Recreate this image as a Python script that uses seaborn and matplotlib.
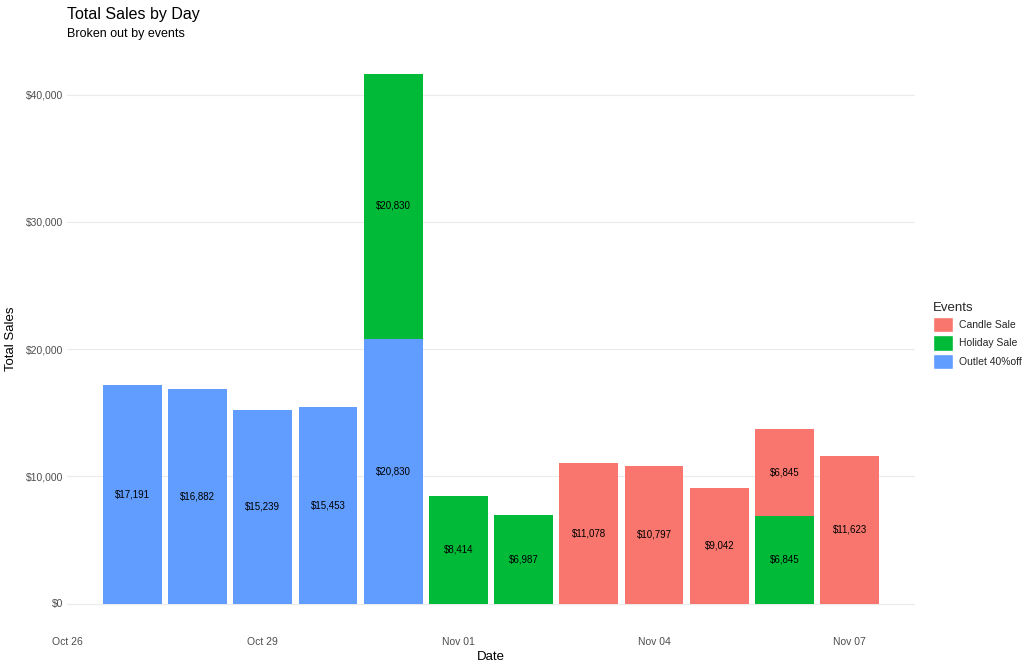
import matplotlib
matplotlib.use('Agg')
import matplotlib.pyplot as plt
import matplotlib.dates as mdates
import matplotlib.ticker as mticker
from matplotlib.patches import Patch
import seaborn as sns
import pandas as pd
import numpy as np

# data
dates = ['2023-10-27', '2023-10-28', '2023-10-29', '2023-10-30', '2023-10-31', '2023-10-31',
         '2023-11-01', '2023-11-02', '2023-11-03', '2023-11-04', '2023-11-05',
         '2023-11-06', '2023-11-06', '2023-11-07']
events = ['Outlet 40%off', 'Outlet 40%off', 'Outlet 40%off', 'Outlet 40%off', 'Outlet 40%off', 'Holiday Sale',
          'Holiday Sale', 'Holiday Sale', 'Candle Sale', 'Candle Sale', 'Candle Sale',
          'Holiday Sale', 'Candle Sale', 'Candle Sale']
sales = [17191, 16882, 15239, 15453, 20830, 20830,
         8414, 6987, 11078, 10797, 9042,
         6845, 6845, 11623]

event_order = ['Candle Sale', 'Holiday Sale', 'Outlet 40%off']
event_colors = ['#F8766D', '#00BA38', '#619CFF']
tick_dates = ['2023-10-26', '2023-10-29', '2023-11-01', '2023-11-04', '2023-11-07']

df = pd.DataFrame({'Date': pd.to_datetime(dates), 'Events': events, 'Sales': sales})
df['dnum'] = mdates.date2num(df['Date'])

sns.set_theme(style='white')
plt.rcParams['font.family'] = ['Liberation Sans', 'DejaVu Sans']

fig = plt.figure(figsize=(10.35, 6.66), dpi=100)
ax = fig.add_axes([67 / 1035, 36 / 666, 848 / 1035, 583 / 666])

# stacked bars; seaborn puts the first hue level on top, like ggplot
sns.histplot(data=df, x='dnum', weights='Sales', hue='Events',
             hue_order=event_order, palette=event_colors,
             discrete=True, shrink=0.9, multiple='stack', alpha=1,
             linewidth=0, legend=False, ax=ax)

# labels at segment centres (bottom-most level first)
rank = {e: i for i, e in enumerate(event_order)}
for d, g in df.groupby('dnum'):
    g = g.assign(r=g['Events'].map(rank)).sort_values('r', ascending=False)
    base = 0
    for _, row in g.iterrows():
        ax.text(d, base + row['Sales'] / 2, f"${row['Sales']:,.0f}",
                ha='center', va='center', fontsize=7, color='black')
        base += row['Sales']

x0 = mdates.date2num(pd.Timestamp('2023-10-26'))
ax.set_xlim(x0, x0 + 13)
ax.set_ylim(-2083, 41660 + 2083)
ax.set_yticks([0, 10000, 20000, 30000, 40000])
ax.yaxis.set_major_formatter(mticker.FuncFormatter(lambda v, p: f"${v:,.0f}"))
ax.set_xticks(mdates.date2num(pd.to_datetime(tick_dates)))
ax.xaxis.set_major_formatter(mdates.DateFormatter('%b %d'))
ax.tick_params(axis='both', labelsize=7.5, colors='#4D4D4D', length=0, pad=3)
ax.tick_params(axis='x', pad=5)
ax.grid(axis='y', color='#EBEBEB', linewidth=0.8)
ax.grid(axis='x', visible=False)
ax.set_axisbelow(True)
sns.despine(ax=ax, left=True, bottom=True)

ax.set_xlabel('Date', fontsize=9.5, color='black', labelpad=3)
ax.set_ylabel('Total Sales', fontsize=9.5, color='black', labelpad=6)

fig.text(67 / 1035, 1 - 15 / 666, 'Total Sales by Day', fontsize=11.5, va='center', color='black')
fig.text(67 / 1035, 1 - 34 / 666, 'Broken out by events', fontsize=9, va='center', color='black')

handles = [Patch(facecolor=c, edgecolor='white', label=e) for e, c in zip(event_order, event_colors)]
leg = fig.legend(handles=handles, title='Events', loc='upper left',
                 bbox_to_anchor=(929 / 1035, 1 - 298 / 666), frameon=False,
                 fontsize=7.5, title_fontsize=9.5, handlelength=1.9, handleheight=1.9,
                 labelspacing=0.28, handletextpad=0.6, borderaxespad=0)
leg._legend_box.align = 'left'

fig.savefig('out.png', dpi=100, facecolor='white')
